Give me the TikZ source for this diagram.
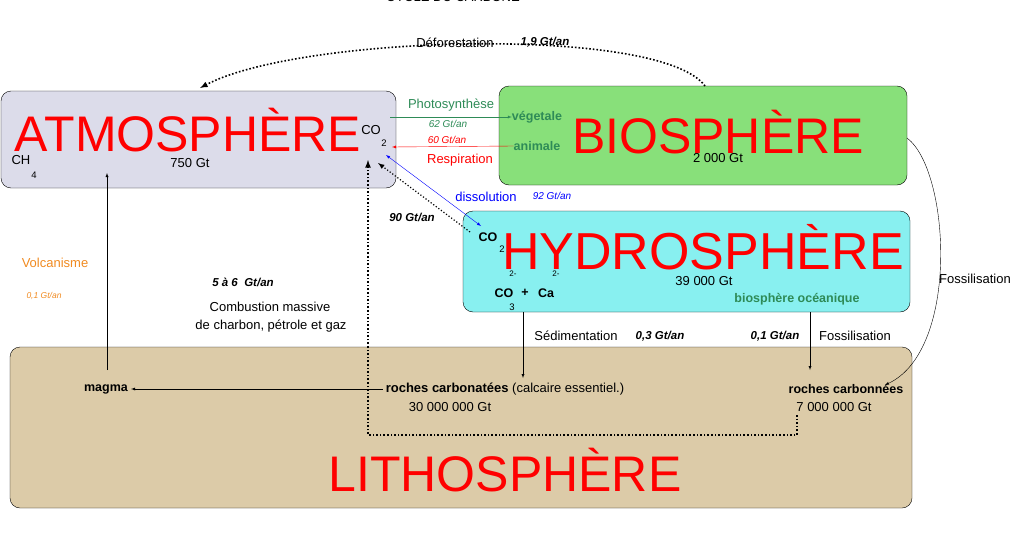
\documentclass[tikz,border=0pt]{standalone}
\usepackage{fontspec}
\setmainfont{Liberation Sans}
\begin{document}
\begin{tikzpicture}[x=1pt,y=-1pt,
 box/.style={draw=black,rounded corners=10pt,thin},
 big/.style={text=red,font=\fontsize{50}{50}\selectfont,inner sep=0pt},
 lab/.style={font=\fontsize{13}{14}\selectfont,inner sep=0pt},
 sm/.style={font=\fontsize{10}{11}\selectfont\itshape,inner sep=0pt},
 bsm/.style={font=\fontsize{11.5}{12}\selectfont\bfseries\itshape,inner sep=0pt},
 bl/.style={font=\fontsize{12.5}{13}\selectfont\bfseries,inner sep=0pt},
 sub/.style={font=\fontsize{9.5}{10}\selectfont,inner sep=0pt},
 arr/.style={-latex},
 dots/.style={dotted,line width=1.6pt,-latex},
]
\useasboundingbox (0,0) rectangle (1023,538);
\definecolor{atm}{HTML}{DCDCEA}
\definecolor{bio}{HTML}{88E07A}
\definecolor{hyd}{HTML}{88F0F0}
\definecolor{lit}{HTML}{DCCBA8}
\definecolor{gr}{HTML}{2E8B57}
\definecolor{org}{HTML}{F08A20}
\node[lab] (title) at (453,-3) {CYCLE DU CARBONE};
\draw[box,fill=atm] (1,91) rectangle (396,188);
\draw[box,fill=bio] (499,86) rectangle (907,185);
\draw[box,fill=hyd] (463,211) rectangle (910,312);
\draw[box,fill=lit] (10,347) rectangle (912,508);
% atmosphere
\node[big] (atm) at (188,130) {ATMOSPHÈRE};
\node[lab] (co2a) at (371,130) {CO};
\node[sub] (co2as) at (384,143) {2};
\node[lab] (ch4) at (21,160) {CH};
\node[sub] at (34,175) {4};
\node[lab] at (190,163) {750 Gt};
% biosphere
\node[big] (bio) at (718,132) {BIOSPHÈRE};
\node[lab] at (718,158) {2 000 Gt};
\node[bl,text=gr] (veg) at (537,117) {végetale};
\node[bl,text=gr] (ani) at (537,146) {animale};
\node[lab,text=gr] at (451,105) {Photosynthèse};
\coordinate (p1) at (390,117);
\draw[gr,arr] (p1) -- (veg.west);
\node[sm,text=gr] at (448,124) {62 Gt/an};
\node[sm,text=red] at (447,140) {60 Gt/an};
\coordinate (r1) at (392,147);
\draw[red,arr] (ani.west) -- (r1);
\node[lab,text=red] at (460,160) {Respiration};
% deforestation
\coordinate (d0) at (705,86);
\coordinate (d1) at (200,88);
\draw[dots] (d0) .. controls (660,25) and (300,35) .. (d1);
\node[lab] at (455,43) {Déforestation};
\node[bsm] at (545,42) {1,9 Gt/an};
% hydrosphere
\node[big,font=\fontsize{52}{52}\selectfont] (hyd) at (703,247) {HYDROSPHÈRE};
\node[bl] (co2h) at (488,237) {CO};
\node[sub] at (502,249) {2};
\node[lab] at (704,281) {39 000 Gt};
\node[bl] (co3) at (504,293) {CO};
\node[sub] at (512,307) {3};
\node[sub,font=\fontsize{8}{8}\selectfont] at (513,274) {2-};
\node[bl] at (525,293) {+};
\node[bl] at (546,293) {Ca};
\node[sub,font=\fontsize{8}{8}\selectfont] at (556,274) {2-};
\node[bl,text=gr] at (797,299) {biosphère océanique};
% dissolution
\coordinate (b1) at (386,155);
\coordinate (b2) at (481,226);
\draw[blue,latex-latex] (b1) -- (b2);
\node[lab,text=blue] at (486,197) {dissolution};
\node[sm,text=blue] at (552,196) {92 Gt/an};
\coordinate (o1) at (470,232);
\coordinate (o2) at (378,163);
\draw[dotted,line width=1.2pt,-latex] (o1) -- (o2);
\node[bsm] at (412,217) {90 Gt/an};
% lithosphere
\node[big] (lit) at (505,470) {LITHOSPHÈRE};
\node[bl] (magma) at (106,389) {magma};
\node[lab] (rca) at (505,389) {\textbf{roches carbonatées} (calcaire essentiel.)};
\node[lab] at (450,407) {30 000 000 Gt};
\node[bl] (rcn) at (846,389) {roches carbonnées};
\node[lab] at (834,407) {7 000 000 Gt};
\draw[arr] (rca.west) ++(-3,0) -- ([xshift=3pt]magma.east);
\coordinate (s0) at (523,312); \coordinate (s1) at (523,378);
\draw[arr] (s0) -- (s1);
\node[lab] at (576,336) {Sédimentation};
\node[bsm] at (660,336) {0,3 Gt/an};
\coordinate (f0) at (810,312); \coordinate (f1) at (810,370);
\draw[arr] (f0) -- (f1);
\node[bsm] at (775,336) {0,1 Gt/an};
\node[lab] at (855,336) {Fossilisation};
\coordinate (g0) at (907,138); \coordinate (g1) at (885,385);
\draw[arr] (g0) .. controls (950,170) and (960,350) .. (g1);
\node[lab] at (975,279) {Fossilisation};
% volcanism
\coordinate (v0) at (107,370);
\coordinate (v1) at (107,173);
\draw[arr] (v0) -- (v1);
\node[lab,text=org] at (55,263) {Volcanisme};
\node[sm,text=org,font=\fontsize{8.5}{9}\selectfont\itshape] at (44,296) {0,1 Gt/an};
% combustion
\node[bsm] at (243,282) {5 à 6 \ Gt/an};
\node[lab] at (270,307) {Combustion massive};
\node[lab] at (271,326) {de charbon, pétrole et gaz};
\coordinate (c0) at (797,415); \coordinate (c1) at (368,160);
\draw[dots] (c0) |- (368,435) -- (c1);
\end{tikzpicture}
\end{document}
